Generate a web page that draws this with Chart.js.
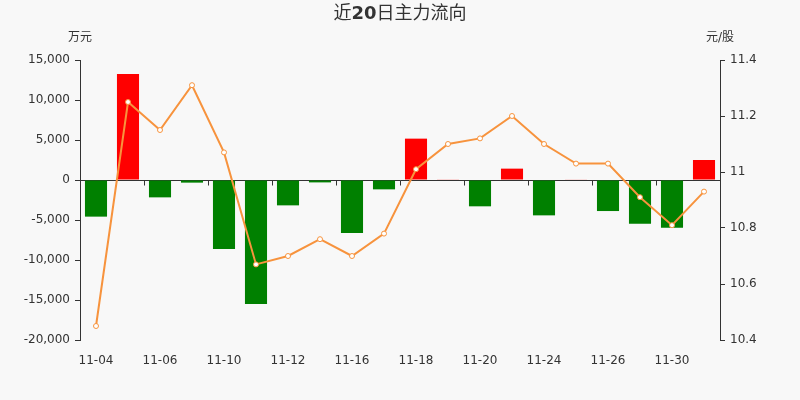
<!DOCTYPE html>
<html>
<head>
<meta charset="utf-8">
<script src="https://cdn.jsdelivr.net/npm/chart.js@4/dist/chart.umd.min.js"></script>
<style>
  html, body { margin: 0; padding: 0; background: #f8f8f8; }
  #wrap { width: 800px; height: 400px; }
</style>
</head>
<body>
<div id="wrap"><canvas id="flowChart" width="800" height="400"></canvas></div>
<script>
// data
var dates = ['11-04', '11-05', '11-06', '11-09', '11-10', '11-11', '11-12', '11-13', '11-16', '11-17',
             '11-18', '11-19', '11-20', '11-23', '11-24', '11-25', '11-26', '11-27', '11-30', '12-01'];
var mainFlow = [-4580, 13250, -2170, -330, -8620, -15500, -3170, -300, -6620, -1170,
                5170, 80, -3290, 1420, -4420, 50, -3880, -5460, -5960, 2500]; // 万元
var price = [10.45, 11.25, 11.15, 11.31, 11.07, 10.67, 10.70, 10.76, 10.70, 10.78,
             11.01, 11.10, 11.12, 11.20, 11.10, 11.03, 11.03, 10.91, 10.81, 10.93]; // 元/股
var leftTicks = [-20000, 15000, 5000];
var rightTicks = [10.4, 11.4, 0.2];
var titleParts = [['近', false], ['20', true], ['日主力流向', false]];

var FONT = "'DejaVu Sans', 'Noto Sans CJK SC', sans-serif";
var TXT = '#333';

function thousands(v) {
  return String(v).replace(/\B(?=(\d{3})+(?!\d))/g, ',');
}

// title, unit labels + small ticks on the zero line
var extras = {
  id: 'extras',
  afterDraw: function (chart) {
    var c = chart.ctx, area = chart.chartArea, x = chart.scales.x, y = chart.scales.y;
    c.save();
    c.fillStyle = TXT;
    c.textBaseline = 'middle';

    // title: digits bold, CJK regular
    c.textAlign = 'left';
    var fonts = titleParts.map(function (p) { return (p[1] ? 'bold ' : '') + '18px ' + FONT; });
    var total = 0;
    titleParts.forEach(function (p, i) { c.font = fonts[i]; total += c.measureText(p[0]).width; });
    var tx = chart.width / 2 - total / 2;
    titleParts.forEach(function (p, i) {
      c.font = fonts[i];
      c.fillText(p[0], tx, 14);
      tx += c.measureText(p[0]).width;
    });

    c.font = '12px ' + FONT;
    c.textAlign = 'center';
    c.fillText('万元', area.left, area.top - 22);
    c.fillText('元/股', area.right, area.top - 22);

    var zero = Math.round(y.getPixelForValue(0)) + 0.5;
    var half = (x.getPixelForValue(1) - x.getPixelForValue(0)) / 2;
    c.strokeStyle = TXT;
    c.lineWidth = 1;
    for (var i = 2; i < dates.length; i += 2) {
      var px = Math.round(x.getPixelForValue(i) - half) + 0.5;
      c.beginPath();
      c.moveTo(px, zero);
      c.lineTo(px, zero + 5);
      c.stroke();
    }
    c.restore();
  }
};

var ctx = document.getElementById('flowChart');
var flowChart = new Chart(ctx, {
  type: 'bar',
  data: {
    labels: dates,
    datasets: [{
        type: 'line',
        label: '股价',
        data: price,
        yAxisID: 'y1',
        borderColor: '#f7933d',
        backgroundColor: '#ffffff',
        borderWidth: 2,
        pointRadius: 2.5,
        pointBorderWidth: 1,
        pointBackgroundColor: '#ffffff',
        pointBorderColor: '#f7933d',
        tension: 0,
        order: 0
      },
      {
        label: '主力流向',
        data: mainFlow,
        yAxisID: 'y',
        backgroundColor: mainFlow.map(function (v) { return v >= 0 ? '#ff0000' : '#008000'; }),
        barPercentage: 0.69,
        categoryPercentage: 1,
        order: 1
      }
    ]
  },
  options: {
    responsive: false,
    animation: false,
    layout: { padding: { top: 60, left: 0, right: 0, bottom: 0 } },
    scales: {
      x: {
        offset: true,
        grid: { display: false },
        border: { display: false },
        afterFit: function (s) { s.height = 60; },
        ticks: {
          autoSkip: false,
          maxRotation: 0,
          color: TXT,
          padding: 6,
          font: { family: FONT, size: 12 },
          callback: function (v, i) { return i % 2 === 0 ? dates[i] : ''; }
        }
      },
      y: {
        position: 'left',
        min: leftTicks[0],
        max: leftTicks[1],
        afterFit: function (s) { s.width = 80; },
        border: { display: true, color: TXT },
        grid: {
          drawTicks: true,
          tickLength: 5,
          tickColor: TXT,
          color: function (c) { return c.tick && c.tick.value === 0 ? TXT : 'rgba(0,0,0,0)'; }
        },
        ticks: {
          stepSize: leftTicks[2],
          color: TXT,
          padding: 5,
          font: { family: FONT, size: 12 },
          callback: function (v) { return thousands(v); }
        }
      },
      y1: {
        position: 'right',
        min: rightTicks[0],
        max: rightTicks[1],
        afterFit: function (s) { s.width = 80; },
        border: { display: true, color: TXT },
        grid: { drawOnChartArea: false, tickLength: 5, tickColor: TXT },
        ticks: {
          stepSize: rightTicks[2],
          color: TXT,
          padding: 5,
          font: { family: FONT, size: 12 },
          callback: function (v) { return Math.round(v * 10) / 10; }
        }
      }
    },
    plugins: {
      legend: { display: false },
      tooltip: { enabled: false },
      title: { display: false }
    }
  },
  plugins: [extras]
});
</script>
</body>
</html>
